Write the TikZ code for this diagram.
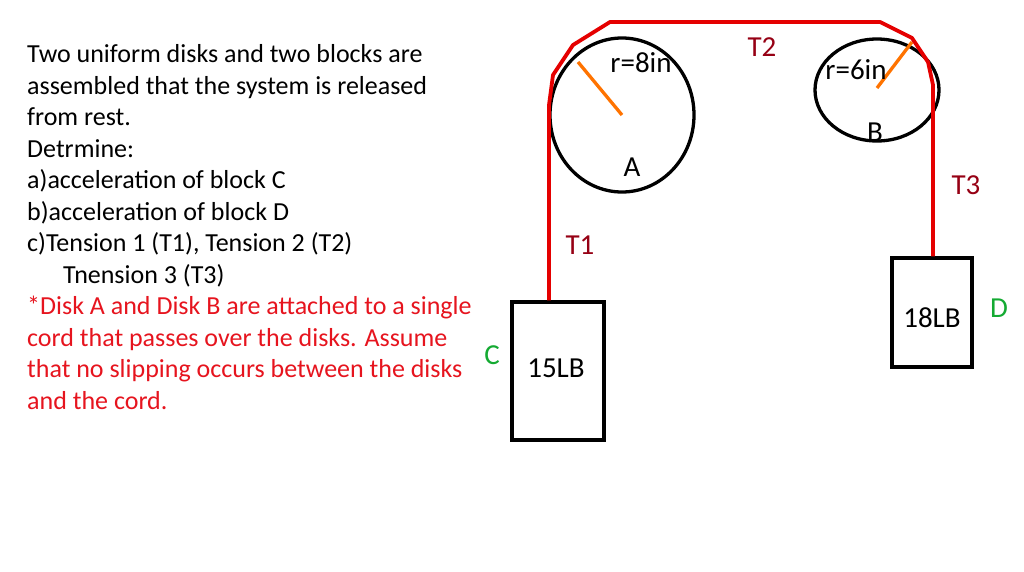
\documentclass[tikz,border=0pt]{standalone}
\usepackage{fontspec}
\setmainfont{Carlito}
\begin{document}
\begin{tikzpicture}[x=1pt,y=-1pt,
  txt/.style={anchor=base west,font=\fontsize{26}{30}\selectfont,inner sep=0},
  lbl/.style={font=\fontsize{29}{33}\selectfont,inner sep=0},
  disk/.style={draw=black,line width=3.3pt},
  cord/.style={draw=red!90!black,line width=3.8pt},
  rad/.style={draw=orange!90!red,line width=3.3pt},
  blk/.style={draw=black,line width=3.3pt}]
\useasboundingbox (0,0) rectangle (1024,571);
\definecolor{tred}{RGB}{150,0,20}
\definecolor{dgreen}{RGB}{20,170,50}
\definecolor{tx}{RGB}{230,20,30}
% text
\node[txt] (l1) at (27,62.5) {Two uniform disks and two blocks are};
\node[txt] (l2) at (27,94) {assembled that the system is released};
\node[txt] (l3) at (27,125.5) {from rest.};
\node[txt] (l4) at (27,157) {Detrmine:};
\node[txt] (l5) at (27,188.5) {a)acceleration of block C};
\node[txt] (l6) at (27,220) {b)acceleration of block D};
\node[txt] (l7) at (27,251.5) {c)Tension 1 (T1), Tension 2 (T2)};
\node[txt] (l8) at (63,283) {Tnension 3 (T3)};
\node[txt,text=tx] (l9) at (27,314.5) {*Disk A and Disk B are attached to a single};
\node[txt,text=tx] (l10) at (27,346) {cord that passes over the disks. Assume};
\node[txt,text=tx] (l11) at (27,377.5) {that no slipping occurs between the disks};
\node[txt,text=tx] (l12) at (27,409) {and the cord.};
% disks
\draw[disk] (622,115) ellipse [x radius=72,y radius=77];
\draw[disk] (877,90) ellipse [x radius=62,y radius=51];
\coordinate (cA) at (622,115);
\coordinate (cB) at (877,88);
\coordinate (eA) at (578,62);
\coordinate (eB) at (912,42);
\draw[rad] (cA) -- (eA);
\draw[rad] (cB) -- (eB);
% blocks
\node[blk,minimum width=92pt,minimum height=138pt] (C) at (558,371) {};
\node[blk,minimum width=80pt,minimum height=109pt] (D) at (932,312.5) {};
\node[lbl] at (556,368) {15LB};
\node[lbl] at (932,318) {18LB};
% cord
\coordinate (k1) at (549,105);
\coordinate (k2) at (880,22);
\draw[cord,line join=round] (C.north -| 549,0) -- (k1) -- (553,75) -- (573,45) -- (610,22) -- (k2) -- (912,38) -- (928,62) -- (933,85) -- (D.north -| 933,0);
% labels
\node[lbl] at (641,63) {r=8in};
\node[lbl] at (856,70) {r=6in};
\node[lbl] at (632,167) {A};
\node[lbl] at (875,132) {B};
\node[lbl,text=tred] at (762,47) {T2};
\node[lbl,text=tred] at (966,185) {T3};
\node[lbl,text=tred] at (580,245) {T1};
\node[lbl,text=dgreen] at (492,355) {C};
\node[lbl,text=dgreen] at (999,308) {D};
\end{tikzpicture}
\end{document}
